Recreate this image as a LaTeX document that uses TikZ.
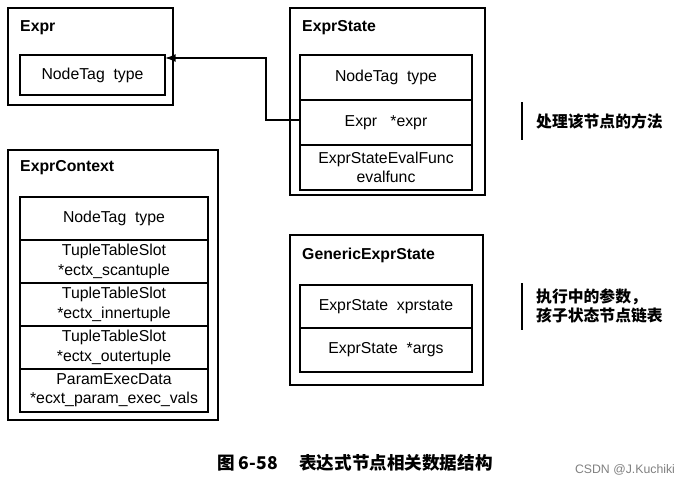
\documentclass[tikz,border=0pt]{standalone}
\usepackage{fontspec}
\setmainfont{Liberation Sans}
\newfontfamily\cjk{Noto Sans CJK SC}
\usetikzlibrary{arrows.meta}
\begin{document}
\begin{tikzpicture}[x=0.02cm,y=-0.02cm,
    outer/.style={draw, line width=0.8pt},
    field/.style={draw, line width=0.8pt, align=center, font=\small},
    title/.style={anchor=west, font=\small\bfseries},
    note/.style={anchor=west, font=\cjk\small\bfseries, align=left}]
  \useasboundingbox (0,0) rectangle (692,484);

  % Expr
  \draw[outer] (8,8) rectangle (173,105);
  \node[title] (t-expr) at (14,28) {Expr};
  \draw[field] (20,55) rectangle node (e-tag) {NodeTag\ \ type} (165,95);
  \coordinate (e-in) at (165,58);

  % ExprState
  \draw[outer] (290,8) rectangle (485,195);
  \node[title] (t-state) at (296,28) {ExprState};
  \draw[field] (300,55) rectangle node (s-tag) {NodeTag\ \ type} (472,100);
  \draw[field] (300,100) rectangle node (s-expr) {Expr\ \ \ *expr} (472,145);
  \draw[field] (300,145) rectangle node (s-func) {ExprStateEvalFunc\\evalfunc} (472,190);
  \coordinate (s-out) at (300,120);
  \draw[-{Latex[length=6pt]}, thick] (s-out) -- (266,120) -- (266,58) -- (e-in);

  % ExprContext
  \draw[outer] (8,150) rectangle (218,420);
  \node[title] (t-ctx) at (14,168) {ExprContext};
  \foreach \i/\txt in {0/{NodeTag\ \ type},1/{TupleTableSlot\\*ectx\_scantuple},2/{TupleTableSlot\\*ectx\_innertuple},3/{TupleTableSlot\\*ectx\_outertuple},4/{ParamExecData\\*ecxt\_param\_exec\_vals}} {
    \draw[field] (20,197+43*\i) rectangle node (c-\i) {\txt} (208,240+43*\i);
  }

  % GenericExprState
  \draw[outer] (290,235) rectangle (483,385);
  \node[title] (t-gen) at (296,255) {GenericExprState};
  \draw[field] (300,285) rectangle node (g-x) {ExprState\ \ xprstate} (472,328);
  \draw[field] (300,328) rectangle node (g-a) {ExprState\ \ *args} (472,372);

  % Notes
  \draw[thick] (522,102) -- (522,140);
  \node[note] (n-1) at (530,121) {处理该节点的方法};
  \draw[thick] (522,283) -- (522,330);
  \node[note] (n-2) at (530,306) {执行中的参数，\\孩子状态节点链表};

  % Caption
  \node[font=\cjk\bfseries] (cap) at (355,463) {图 6-58\quad\ 表达式节点相关数据结构};
  \node[font=\scriptsize, text=gray] (wm) at (625,470) {CSDN @J.Kuchiki};
\end{tikzpicture}
\end{document}
